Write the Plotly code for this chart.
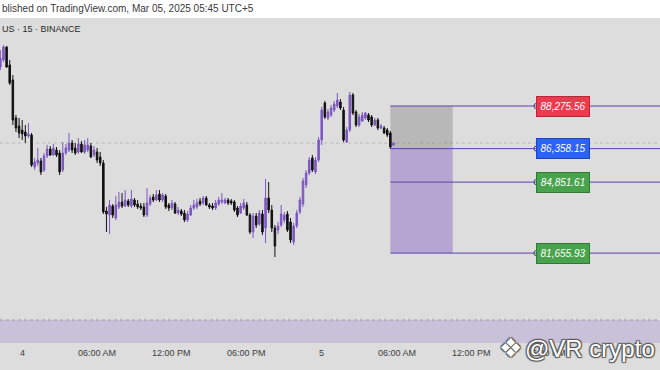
import plotly.graph_objects as go
import pandas as pd

# ---------------- data ----------------
times = pd.date_range("2025-03-03 22:15", periods=127, freq="15min")

open_ = [90031, 90346, 90931, 90121, 89446, 87736, 87376, 87196, 87106, 86926,
         86971, 85531, 85711, 85801, 85396, 86026, 86341, 86071, 86296, 86161,
         85396, 86161, 86296, 86611, 86386, 86206, 86566, 86206, 86296, 86476,
         86071, 86206, 85981, 85711, 83551, 83371, 83776, 83236, 83731, 83956,
         83776, 84001, 83776, 84046, 83866, 83776, 83731, 83371, 83866, 84181,
         84046, 84316, 84046, 84226, 83821, 83686, 83866, 83461, 83551, 83461,
         83146, 83371, 83686, 83731, 84001, 83911, 84136, 83821, 83776, 83686,
         83866, 83956, 83911, 84046, 84001, 83956, 83686, 83461, 83686, 83821,
         83371, 82606, 83326, 82966, 83416, 82786, 84136, 83596, 82786, 82696,
         82921, 83146, 83416, 83056, 82156, 82876, 83506, 83866, 84721, 85261,
         85936, 85306, 85846, 86746, 88411, 87736, 87871, 88096, 88276, 88456,
         88096, 86656, 87196, 88771, 88006, 87421, 87601, 87736, 87871, 87781,
         87421, 87646, 87286, 87286, 87196, 87061, 86521]

high = [90796, 91021, 90976, 90346, 89671, 87871, 87736, 87646, 87421, 87511,
        87061, 85936, 86386, 85936, 86161, 86521, 86476, 86566, 86431, 86296,
        86656, 86566, 87061, 86746, 86611, 86836, 86701, 86746, 86836, 86611,
        86476, 86386, 86206, 85846, 83731, 84046, 83866, 84226, 84406, 84361,
        84496, 84091, 84496, 84136, 84046, 83911, 83911, 84586, 84271, 84316,
        84496, 84496, 84361, 84316, 83911, 84046, 83956, 83731, 83641, 83596,
        83551, 83821, 84046, 84091, 84136, 84226, 84226, 83911, 83911, 84046,
        84181, 84361, 84136, 84136, 84091, 84046, 83776, 83911, 84091, 83956,
        83461, 83461, 83461, 83596, 83596, 84991, 84856, 83821, 82921, 83056,
        83821, 83506, 83551, 83236, 83011, 83596, 84181, 85036, 85396, 85981,
        86071, 85981, 86881, 88231, 88501, 88141, 88321, 88501, 88861, 88591,
        88231, 87331, 88906, 88861, 88096, 87916, 88006, 88006, 87961, 87871,
        87736, 87736, 87466, 87376, 87286, 87151, 86656]

low = [89896, 90256, 89986, 89221, 87421, 87106, 86836, 86746, 86611, 86836,
       85531, 85396, 85576, 85171, 85306, 85936, 86026, 86026, 85981, 85171,
       85306, 86071, 86206, 86161, 86071, 86116, 86161, 86116, 86206, 85936,
       85981, 85711, 85576, 83416, 82606, 82516, 83236, 83146, 83641, 83686,
       83731, 83731, 83686, 83731, 83641, 83596, 83281, 83281, 83776, 83956,
       84001, 83956, 83956, 83641, 83551, 83596, 83416, 83371, 83326, 83056,
       83056, 83326, 83596, 83641, 83776, 83821, 83776, 83641, 83596, 83596,
       83776, 83866, 83866, 83821, 83821, 83506, 83281, 83416, 83596, 83326,
       82516, 82336, 82786, 82876, 82471, 82111, 83461, 82606, 81481, 82516,
       82831, 83011, 82606, 82111, 82021, 82786, 83416, 83731, 84586, 85171,
       85306, 85216, 85756, 86521, 87691, 87646, 87781, 88006, 88186, 88096,
       86656, 86611, 87106, 87871, 87331, 87331, 87556, 87646, 87556, 87331,
       87376, 87196, 87241, 87016, 86881, 86341, 86476]

close = [90436, 90931, 90031, 89311, 87646, 87286, 87061, 87016, 86926, 87016,
         85621, 85756, 85846, 85306, 86026, 86341, 86071, 86386, 86071, 85306,
         86161, 86386, 86611, 86296, 86161, 86566, 86206, 86521, 86521, 85981,
         86296, 85846, 85711, 83506, 83416, 83821, 83371, 83821, 83956, 83776,
         84046, 83821, 84091, 83821, 83731, 83686, 83371, 83911, 84136, 84046,
         84271, 84046, 84271, 83731, 83686, 83911, 83461, 83596, 83416, 83146,
         83416, 83686, 83821, 83911, 83866, 84136, 83821, 83731, 83686, 83911,
         84046, 84046, 84046, 83911, 83911, 83596, 83371, 83776, 83911, 83371,
         82606, 83326, 82921, 83461, 82606, 84136, 83596, 82786, 81976, 82876,
         83416, 83371, 82696, 82246, 82876, 83461, 84046, 84901, 85261, 85846,
         85396, 85846, 86746, 88096, 87781, 88006, 88186, 88366, 88546, 88186,
         86746, 87196, 88771, 87961, 87421, 87781, 87871, 87961, 87646, 87421,
         87646, 87286, 87376, 87061, 86971, 86431, 86611]

levels = [88275.56, 86358.15, 84851.61, 81655.93]
level_text = ["88,275.56", "86,358.15", "84,851.61", "81,655.93"]
level_colors = ["#ec3b4e", "#2c62f5", "#48a34c", "#48a34c"]
level_borders = ["#b8283a", "#1d45b8", "#2f7a33", "#2f7a33"]

tick_times = ["2025-03-04 00:00", "2025-03-04 06:00", "2025-03-04 12:00",
              "2025-03-04 18:00", "2025-03-05 00:00", "2025-03-05 06:00",
              "2025-03-05 12:00", "2025-03-05 18:00"]
tick_labels = ["4", "06:00 AM", "12:00 PM", "06:00 PM", "5",
               "06:00 AM", "12:00 PM", "06:00 PM"]

header_text = "blished on TradingView.com, Mar 05, 2025 05:45 UTC+5"
symbol_text = "US · 15 · BINANCE"
watermark = "@VR crypto"

# ---------------- figure ----------------
W, H = 660, 370
t_day = pd.Timestamp("2025-03-04 00:00")
min_per_px = 15 / 3.12
x_left = t_day - pd.Timedelta(minutes=22.2 * min_per_px)
x_right = x_left + pd.Timedelta(minutes=W * min_per_px)
y_top, y_bottom = 93046, 76396

UP = "#7e57c2"
DOWN = "#111111"

fig = go.Figure()
fig.add_trace(go.Candlestick(
    x=times, open=open_, high=high, low=low, close=close,
    increasing=dict(line=dict(color=UP, width=1), fillcolor=UP),
    decreasing=dict(line=dict(color=DOWN, width=1), fillcolor=DOWN),
    whiskerwidth=0, hoverinfo="skip", showlegend=False,
))

def py(px):  # paper y from pixel from top
    return 1 - px / H

shapes = []
# header strip
shapes.append(dict(type="rect", xref="paper", yref="paper", x0=0, x1=1,
                   y0=py(18), y1=1, fillcolor="#ffffff", line=dict(width=0),
                   layer="below"))
# bottom purple band
shapes.append(dict(type="rect", xref="paper", yref="paper", x0=0, x1=1,
                   y0=py(343), y1=py(320), fillcolor="#c9c1d9", line=dict(width=0),
                   layer="below"))
shapes.append(dict(type="line", xref="paper", yref="paper", x0=0, x1=1,
                   y0=py(320), y1=py(320), line=dict(color="#9a9a9a", width=1, dash="dot"),
                   layer="below"))
# current price dotted line
shapes.append(dict(type="line", xref="paper", yref="y", x0=0, x1=1,
                   y0=close[-1], y1=close[-1],
                   line=dict(color="#bababa", width=1, dash="dot"), layer="below"))
# position boxes
box_x0 = "2025-03-05 05:30"
box_x1 = "2025-03-05 10:30"
shapes.append(dict(type="rect", xref="x", yref="y", x0=box_x0, x1=box_x1,
                   y0=levels[1], y1=levels[0], fillcolor="rgba(110,110,110,0.33)",
                   line=dict(width=0), layer="below"))
shapes.append(dict(type="rect", xref="x", yref="y", x0=box_x0, x1=box_x1,
                   y0=levels[3], y1=levels[1], fillcolor="rgba(126,87,194,0.42)",
                   line=dict(width=0), layer="below"))
for lv in levels:
    shapes.append(dict(type="line", xref="x", yref="y", x0=box_x0, x1="2025-03-07 00:00",
                       y0=lv, y1=lv, line=dict(color="#5d3fb0", width=1), layer="above"))

annotations = []
annotations.append(dict(text=header_text, xref="paper", yref="paper", x=0, y=py(8),
                        xanchor="left", yanchor="middle", showarrow=False,
                        font=dict(family="Liberation Sans", size=10, color="#3a3a3a")))
annotations.append(dict(text=symbol_text, xref="paper", yref="paper", x=0, y=py(29),
                        xanchor="left", yanchor="middle", showarrow=False,
                        font=dict(family="Liberation Sans", size=9, color="#2a2a2a")))
for t, lab in zip(tick_times, tick_labels):
    annotations.append(dict(text=lab, xref="x", yref="paper", x=t, y=py(353),
                            xanchor="center", yanchor="middle", showarrow=False,
                            font=dict(family="Liberation Sans", size=9, color="#3c3c3c")))

label_x = "2025-03-05 19:20"
dot_x = "2025-03-05 17:12"
for lv, txt, c, b in zip(levels, level_text, level_colors, level_borders):
    annotations.append(dict(text=txt, xref="x", yref="y", x=label_x, y=lv,
                            xanchor="center", yanchor="middle", showarrow=False,
                            bgcolor=c, bordercolor=b, borderwidth=1, borderpad=3,
                            width=46, height=13,
                            font=dict(family="Liberation Sans", size=10, color="#ffffff",
                                      style="italic")))

fig.add_trace(go.Scatter(x=[dot_x] * len(levels), y=levels, mode="markers",
                         marker=dict(size=5, color="#ffffff",
                                     line=dict(color="#333333", width=1)),
                         hoverinfo="skip", showlegend=False, cliponaxis=False))

# watermark
wm_shadow = "1px 1px 1px #555, -1px -1px 1px #555, 1px -1px 1px #555, -1px 1px 1px #555"
annotations.append(dict(text="❖", xref="paper", yref="paper", x=510 / W, y=py(348),
                        xanchor="center", yanchor="middle", showarrow=False,
                        font=dict(family="DejaVu Sans", size=26, color="#ffffff",
                                  shadow=wm_shadow)))
annotations.append(dict(text=watermark, xref="paper", yref="paper", x=590 / W, y=py(348),
                        xanchor="center", yanchor="middle", showarrow=False,
                        font=dict(family="Liberation Sans", size=24, color="#ffffff",
                                  shadow=wm_shadow)))

fig.update_layout(
    width=W, height=H,
    margin=dict(l=0, r=0, t=0, b=0),
    paper_bgcolor="#dddddd", plot_bgcolor="#dddddd",
    showlegend=False,
    shapes=shapes, annotations=annotations,
    xaxis=dict(range=[x_left, x_right], visible=False, rangeslider=dict(visible=False),
               fixedrange=True),
    yaxis=dict(range=[y_bottom, y_top], visible=False, fixedrange=True),
    hovermode=False,
)

fig.write_html("out.html", config=dict(displayModeBar=False))
